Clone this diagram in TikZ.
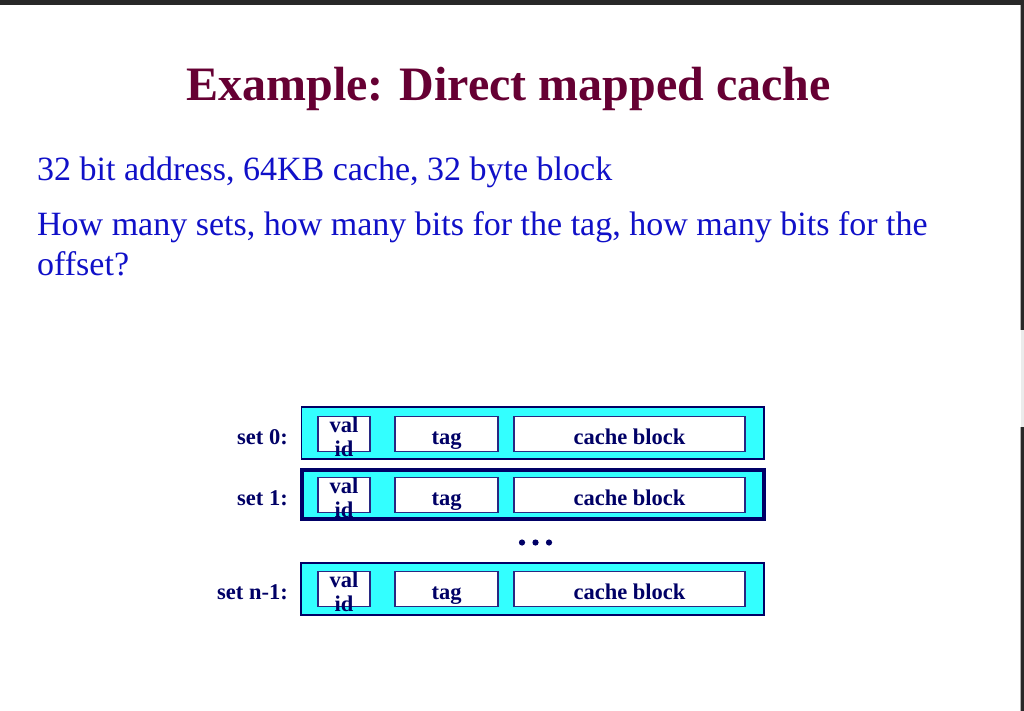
\documentclass[tikz,border=0pt]{standalone}
\usepackage{fontspec}
\setmainfont{Liberation Serif}
\definecolor{titlecol}{RGB}{102,0,51}
\definecolor{bodycol}{RGB}{16,16,200}
\definecolor{navyc}{RGB}{0,0,102}
\definecolor{cyanfill}{RGB}{51,255,255}
\definecolor{boxline}{RGB}{40,40,130}
\definecolor{stripdark}{RGB}{40,40,40}
\begin{document}
\begin{tikzpicture}[x=1pt,y=-1pt,
  rowbox/.style={draw=navyc, line width=1.3pt, fill=cyanfill, inner sep=0pt, outer sep=0pt, minimum height=52pt},
  cell/.style={draw=boxline, line width=1.2pt, fill=white, inner sep=0pt, minimum height=35pt,
     text height=21pt, text depth=0pt, font=\fontsize{22.5}{23.5}\selectfont\bfseries, text=navyc},
  celltext/.style={font=\fontsize{22.5}{23.5}\selectfont\bfseries, text=navyc, inner sep=0pt},
  bodytext/.style={anchor=base west, font=\fontsize{34}{38}\selectfont, text=bodycol, inner sep=0pt}]
\useasboundingbox (0,0) rectangle (1024,711);
\fill[white] (0,0) rectangle (1024,711);
% window strips
\fill[stripdark] (0,0) rectangle (1024,5);
\fill[stripdark] (1020.5,0) rectangle (1024,330);
\fill[stripdark] (1020.5,427) rectangle (1024,711);
\fill[black!8] (1020.5,330) rectangle (1024,427);
\fill[black!30] (1019.5,5) rectangle (1020.5,330);
\fill[black!30] (1019.5,427) rectangle (1020.5,711);
% title and text
\node[anchor=base, inner sep=0pt, font=\fontsize{48}{58}\selectfont\bfseries, text=titlecol] (title) at (508.5,100.5) {Example: Direct mapped cache};
\node[bodytext] (l1) at (37,181) {32 bit address, 64KB cache, 32 byte block};
\node[bodytext] (l2) at (37,236) {How many sets, how many bits for the tag, how many bits for the};
\node[bodytext] (l3) at (37,275) {offset?};
% rows
\node[rowbox, minimum width=462.5pt] (r0) at (532.75,433) {};
\node[rowbox, minimum width=462pt, minimum height=49pt, line width=4pt] (r1) at (533,494.5) {};
\node[rowbox, minimum width=463pt] (r2) at (532.5,589) {};
\foreach \r/\cy/\lab in {0/434/set 0:, 1/495/set 1:, 2/589/set n-1:}{
  \node[cell, minimum width=52pt] (v\r) at (344,\cy) {};
  \node[celltext, align=center] (vt\r) at (344,\cy+3) {val\\id};
  \node[cell, minimum width=103pt] (t\r) at (446.5,\cy) {tag};
  \node[cell, minimum width=231pt] (c\r) at (629.5,\cy) {cache block};
  \node[celltext, anchor=base east] (s\r) at (288,\cy+10.5) {\lab};
}
% dots
\foreach \x in {522,535.5,549}{\fill[navyc] (\x,542.5) circle (3.1);}
\end{tikzpicture}
\end{document}
